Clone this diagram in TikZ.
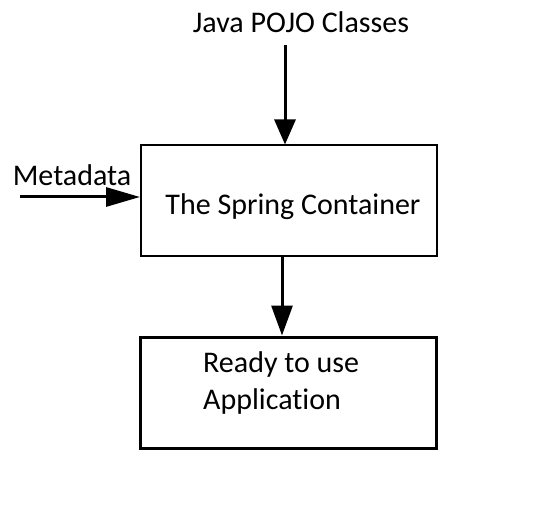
\documentclass[tikz,border=0pt]{standalone}
\usepackage{fontspec}
\setmainfont{Carlito}[RawFeature={-liga}]
\usetikzlibrary{positioning, arrows.meta}

\begin{document}
\begin{tikzpicture}[x=1pt, y=-1pt,
    box/.style={draw, rectangle, minimum width=296pt, minimum height=111pt},
    flow/.style={line width=3pt, -{Triangle[length=30pt, width=21pt]}},
    label/.style={font=\fontsize{30}{37}\selectfont, inner sep=0pt}]
    \useasboundingbox (0,0) rectangle (541,513);

    % Boxes
    \node[box, line width=2pt] (container) at (289,201) {};
    \node[box, line width=3pt] (app) at (288.5,392.5) {};

    % Texts
    \node[label] (pojo) at (301,22) {Java POJO Classes};
    \node[label] (metadata) at (72,175) {Metadata};
    \node[label] (containertext) at (293,207) {The Spring Container};
    \node[label, align=left, anchor=west] (apptext) at (203,383) {Ready to use\\Application};

    % Arrows
    \coordinate (pojoend) at (285,45);
    \coordinate (metastart) at (20,197);
    \draw[flow, -{Triangle[length=25pt, width=21pt]}] (pojoend) -- (pojoend |- container.north);
    \draw[flow, -{Triangle[length=34pt, width=19pt]}] (metastart) -- (metastart -| container.west);
    \draw[flow] ([xshift=-7pt]container.south) -- ([xshift=-6.5pt]app.north);

  \end{tikzpicture}
\end{document}
